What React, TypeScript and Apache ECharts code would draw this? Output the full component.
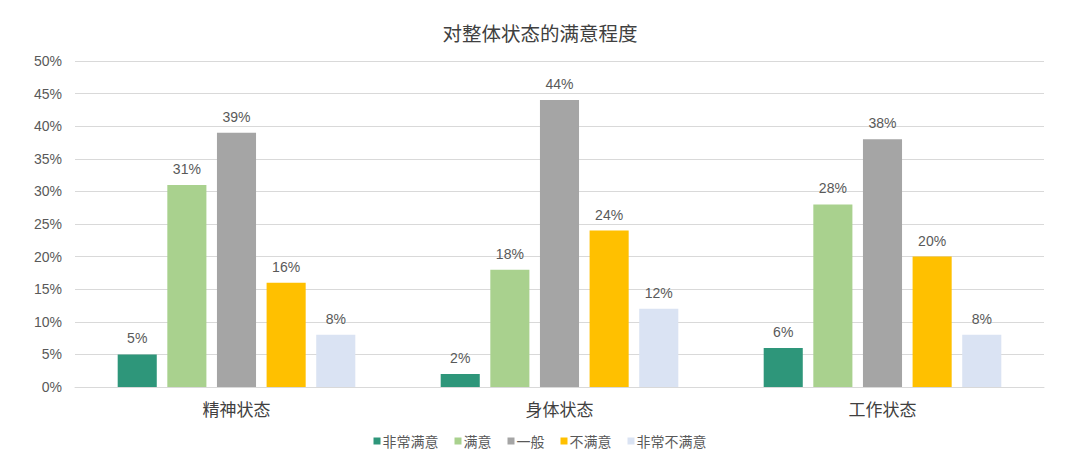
import React, { useEffect, useRef } from "react";
import * as echarts from "echarts";

const categories = ["精神状态", "身体状态", "工作状态"];
const seriesNames = ["非常满意", "满意", "一般", "不满意", "非常不满意"];
const v1 = [5, 2, 6];
const v2 = [31, 18, 28];
const v3 = [39, 44, 38];
const v4 = [16, 24, 20];
const v5 = [8, 12, 8];
const colors = ["#2e967a", "#a9d18e", "#a5a5a5", "#ffc000", "#dae3f3"];

export default function App() {
  const ref = useRef<HTMLDivElement>(null);
  useEffect(() => {
    const chart = echarts.init(ref.current!, null, { renderer: "svg" });
    const data = [v1, v2, v3, v4, v5];
    chart.setOption({
      animation: false,
      backgroundColor: "#ffffff",
      title: {
        text: "对整体状态的满意程度",
        left: "center",
        top: 18,
        textStyle: { fontSize: 19.5, fontWeight: "normal", color: "#404040", fontFamily: "Noto Sans CJK SC" },
      },
      legend: {
        bottom: 15,
        left: "center",
        itemWidth: 7,
        itemHeight: 7,
        itemGap: 16,
        icon: "rect",
        textStyle: { fontSize: 14, color: "#595959", fontFamily: "Noto Sans CJK SC", padding: [0, 0, 0, -3] },
        data: seriesNames,
      },
      grid: { left: 75, right: 36, top: 61, bottom: 81 },
      xAxis: {
        type: "category",
        data: categories,
        axisLine: { lineStyle: { color: "#d9d9d9" } },
        axisTick: { show: false },
        axisLabel: { fontSize: 17, color: "#404040", margin: 13, fontFamily: "Noto Sans CJK SC" },
      },
      yAxis: {
        type: "value",
        min: 0,
        max: 50,
        interval: 5,
        axisLine: { show: false },
        axisTick: { show: false },
        splitLine: { lineStyle: { color: "#d9d9d9" } },
        axisLabel: { formatter: "{value}%", fontSize: 14, color: "#595959", margin: 13, fontFamily: "Liberation Sans" },
      },
      series: seriesNames.map((name, i) => ({
        name,
        type: "bar",
        data: data[i],
        barWidth: "12.1%",
        barGap: "27%",
        itemStyle: { color: colors[i] },
        label: {
          show: true,
          position: "top",
          formatter: "{c}%",
          fontSize: 14,
          color: "#595959",
          distance: 9,
          fontFamily: "Liberation Sans",
        },
      })),
    });
    return () => chart.dispose();
  }, []);
  return <div ref={ref} style={{ position: "fixed", left: 0, top: 0, width: 1080, height: 468 }} />;
}
